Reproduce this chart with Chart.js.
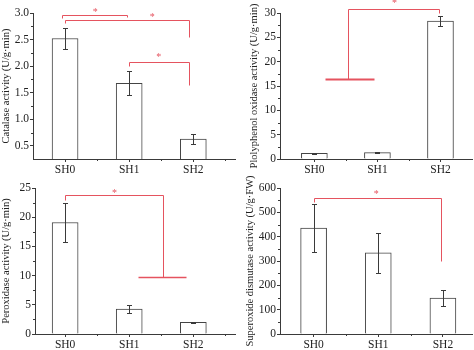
<!DOCTYPE html>
<html>
<head>
<meta charset="utf-8">
<script src="https://cdn.jsdelivr.net/npm/chart.js@4.4.1/dist/chart.umd.min.js"></script>
<style>
  html, body { margin: 0; padding: 0; background: #fff; }
  #wrap { position: relative; width: 474px; height: 350px; }
  #wrap canvas { position: absolute; }
</style>
</head>
<body>
<div id="wrap">
  <canvas id="cat" width="237" height="175" style="left:0;top:0"></canvas>
  <canvas id="ppo" width="237" height="175" style="left:237px;top:0"></canvas>
  <canvas id="pod" width="237" height="175" style="left:0;top:175px"></canvas>
  <canvas id="sod" width="237" height="175" style="left:237px;top:175px"></canvas>
</div>
<script>
const groups = ['SH0', 'SH1', 'SH2'];

// Catalase
const catMean = [2.52, 1.68, 0.63];
const catErr = [0.19, 0.23, 0.10];
const catTicks = [0.5, 1.0, 1.5, 2.0, 2.5, 3.0];

// Polyphenol oxidase
const ppoMean = [1.15, 1.3, 28.35];
const ppoErr = [0.1, 0.1, 1.1];
const ppoTicks = [0, 5, 10, 15, 20, 25, 30];

// Peroxidase
const podMean = [19.1, 4.27, 2.0];
const podErr = [3.4, 0.7, 0.1];
const podTicks = [0, 5, 10, 15, 20, 25];

// Superoxide dismutase
const sodMean = [435, 334, 148];
const sodErr = [99, 82, 33];
const sodTicks = [0, 100, 200, 300, 400, 500, 600];

// significance brackets, in data units (x = group index)
const catSig = [
    { path: [[-0.04, 2.905], [-0.04, 2.97], [0.97, 2.97], [0.97, 2.92]], star: [0.47, 3.04] },
    { path: [[0, 2.81], [0, 2.874], [1.93, 2.874], [1.93, 2.547]], star: [1.36, 2.96] },
    { path: [[1, 2.01], [1, 2.08], [1.93, 2.08], [1.93, 1.64]], star: [1.46, 2.2] }
];
const ppoSig = [
    { path: [[0.54, 16.5], [0.54, 30.8], [1.98, 30.8], [1.98, 30.0]], star: [1.27, 32.3] },
    { path: [[0.17, 16.5], [0.94, 16.5]], width: 2 }
];
const podSig = [
    { path: [[0, 22.9], [0, 23.8], [1.53, 23.8], [1.53, 9.8]], star: [0.77, 24.5] },
    { path: [[1.13, 9.8], [1.89, 9.8]], width: 1.5 }
];
const sodSig = [
    { path: [[0, 544], [0, 558], [1.97, 558], [1.97, 300]], star: [0.97, 580] }
];

const AXIS = '#3a3a3a';
const RED = '#e5535f';
const SERIF = "'Liberation Serif', 'Times New Roman', serif";

// error bars, minor ticks and the red significance marks
function makeExtras(cfg) {
    return {
        id: 'extras',
        afterDatasetsDraw: function (chart) {
            const ctx = chart.ctx;
            const xs = chart.scales.x;
            const ys = chart.scales.y;
            const crisp = v => Math.round(v) + 0.5;

            ctx.save();
            ctx.lineWidth = 1;
            ctx.strokeStyle = AXIS;

            // minor ticks
            ctx.beginPath();
            for (let v = 0.5; v < xs.max; v += 1) {
                const px = crisp(xs.getPixelForValue(v));
                ctx.moveTo(px, ys.bottom);
                ctx.lineTo(px, ys.bottom + 2);
            }
            for (let i = 0; i < cfg.ticks.length - 1; i++) {
                const py = crisp(ys.getPixelForValue((cfg.ticks[i] + cfg.ticks[i + 1]) / 2));
                ctx.moveTo(xs.left, py);
                ctx.lineTo(xs.left - 2, py);
            }
            ctx.stroke();

            // error bars
            ctx.beginPath();
            cfg.mean.forEach((m, i) => {
                const px = crisp(xs.getPixelForValue(i));
                const top = crisp(ys.getPixelForValue(m + cfg.err[i]));
                const bot = crisp(ys.getPixelForValue(m - cfg.err[i]));
                ctx.moveTo(px, top);
                ctx.lineTo(px, bot);
                ctx.moveTo(px - 2.5, top);
                ctx.lineTo(px + 2.5, top);
                ctx.moveTo(px - 2.5, bot);
                ctx.lineTo(px + 2.5, bot);
            });
            ctx.stroke();

            // significance
            ctx.strokeStyle = RED;
            ctx.fillStyle = RED;
            ctx.font = '10px ' + SERIF;
            ctx.textAlign = 'center';
            ctx.textBaseline = 'middle';
            cfg.sig.forEach(s => {
                ctx.lineWidth = s.width || 1;
                ctx.beginPath();
                s.path.forEach((p, k) => {
                    const px = crisp(xs.getPixelForValue(p[0]));
                    const py = crisp(ys.getPixelForValue(p[1]));
                    if (k === 0) ctx.moveTo(px, py); else ctx.lineTo(px, py);
                });
                ctx.stroke();
                if (s.star) {
                    ctx.fillText('*', xs.getPixelForValue(s.star[0]), ys.getPixelForValue(s.star[1]) + 2);
                }
            });
            ctx.restore();
        }
    };
}

function makeChart(id, cfg) {
    const tickFont = { family: SERIF, size: 11.5 };
    return new Chart(document.getElementById(id), {
        type: 'bar',
        data: {
            datasets: [{
                data: cfg.mean.map((v, i) => ({ x: i, y: v })),
                backgroundColor: '#ffffff',
                borderColor: '#444',
                borderWidth: 1,
                barThickness: 26
            }]
        },
        options: {
            responsive: false,
            animation: false,
            events: [],
            layout: { padding: { top: cfg.top, right: 2, left: 0, bottom: 0 } },
            plugins: {
                legend: { display: false },
                tooltip: { enabled: false }
            },
            scales: {
                x: {
                    type: 'linear',
                    min: cfg.xMin,
                    max: cfg.xMax,
                    offset: false,
                    bounds: 'data',
                    afterBuildTicks: s => { s.ticks = groups.map((g, i) => ({ value: i })); },
                    afterFit: s => { s.height = 16; },
                    ticks: {
                        callback: v => groups[v],
                        font: tickFont,
                        color: '#222',
                        padding: 1,
                        maxRotation: 0,
                        autoSkip: false
                    },
                    grid: { drawOnChartArea: false, offset: false, tickLength: 3, color: AXIS },
                    border: { color: AXIS }
                },
                y: {
                    min: cfg.yMin,
                    max: cfg.yMax,
                    bounds: 'data',
                    afterBuildTicks: s => { s.ticks = cfg.ticks.map(v => ({ value: v })); },
                    afterFit: s => { s.width = cfg.left; },
                    ticks: {
                        callback: cfg.fmt,
                        font: tickFont,
                        color: '#222',
                        padding: 1
                    },
                    grid: { drawOnChartArea: false, tickLength: 3, color: AXIS },
                    border: { color: AXIS },
                    title: {
                        display: true,
                        text: cfg.title,
                        color: '#222',
                        font: { family: SERIF, size: 10.5 },
                        padding: { top: cfg.titlePad, bottom: 0 }
                    }
                }
            }
        },
        plugins: [makeExtras(cfg)]
    });
}

makeChart('cat', {
    mean: catMean, err: catErr, ticks: catTicks, sig: catSig,
    yMin: 0.255, yMax: 3.0, xMin: -0.5, xMax: 2.65,
    left: 33, top: 13, titlePad: 0,
    fmt: v => v.toFixed(1),
    title: 'Catalase activity (U/g\u00b7min)'
});

makeChart('ppo', {
    mean: ppoMean, err: ppoErr, ticks: ppoTicks, sig: ppoSig,
    yMin: 0, yMax: 30, xMin: -0.545, xMax: 2.5,
    left: 43, top: 13, titlePad: 10.5,
    fmt: v => String(v),
    title: 'Plolyphenol oxidase activity (U/g\u00b7min)'
});

makeChart('pod', {
    mean: podMean, err: podErr, ticks: podTicks, sig: podSig,
    yMin: 0, yMax: 25, xMin: -0.47, xMax: 2.65,
    left: 35, top: 13, titlePad: 0,
    fmt: v => String(v),
    title: 'Peroxidase activity (U/g\u00b7min)'
});

makeChart('sod', {
    mean: sodMean, err: sodErr, ticks: sodTicks, sig: sodSig,
    yMin: 0, yMax: 600, xMin: -0.52, xMax: 2.45,
    left: 43, top: 13, titlePad: 6.5,
    fmt: v => String(v),
    title: 'Superoxide dismutase activity (U/g\u00b7FW)'
});
</script>
</body>
</html>
